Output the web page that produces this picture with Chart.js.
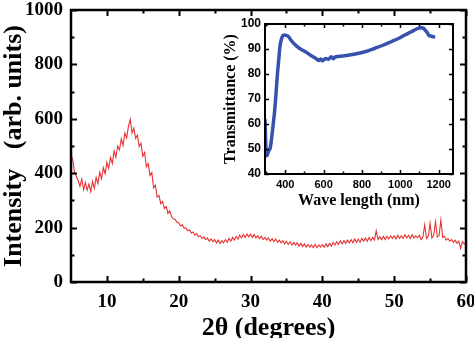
<!DOCTYPE html>
<html>
<head>
<meta charset="utf-8">
<script src="https://cdn.jsdelivr.net/npm/chart.js@4.4.1/dist/chart.umd.min.js"></script>
<style>
  html, body { margin: 0; padding: 0; background: #fff; }
  #wrap { position: relative; width: 474px; height: 338px; }
  #main { position: absolute; left: 0; top: 0; }
  #inset { position: absolute; left: 215px; top: 12px; }
</style>
</head>
<body>
<div id="wrap">
  <canvas id="main" width="474" height="338"></canvas>
  <canvas id="inset" width="245" height="205"></canvas>
</div>
<script>
// XRD scan: intensity sampled every 0.25 deg from 5 to 60
const thetaStart = 5;
const thetaStep = 0.25;
const intensity = [
  470, 448, 402, 388,   // 5
  372, 352, 378, 340,   // 6
  366, 338, 360, 332,   // 7
  370, 344, 384, 362,   // 8
  404, 380, 420, 398,   // 9
  440, 418, 458, 436,   // 10
  482, 458, 500, 486,   // 11
  526, 502, 548, 530,   // 12
  572, 598, 548, 566,   // 13
  528, 540, 498, 510,   // 14
  462, 476, 424, 436,   // 15
  392, 402, 346, 356,   // 16
  312, 318, 288, 296,   // 17
  270, 278, 252, 262,   // 18
  240, 232, 230, 220,   // 19
  218, 206, 210, 198,   // 20
  198, 188, 192, 180,   // 21
  184, 172, 178, 166,   // 22
  170, 160, 166, 156,   // 23
  162, 150, 158, 148,   // 24
  156, 144, 154, 142,   // 25
  152, 144, 156, 146,   // 26
  160, 150, 164, 154,   // 27
  168, 158, 172, 162,   // 28
  174, 164, 176, 166,   // 29
  176, 164, 174, 162,   // 30
  170, 160, 168, 156,   // 31
  164, 154, 162, 150,   // 32
  160, 148, 158, 146,   // 33
  154, 144, 152, 140,   // 34
  150, 138, 148, 136,   // 35
  146, 136, 144, 132,   // 36
  142, 130, 140, 128,   // 37
  138, 128, 136, 126,   // 38
  138, 126, 136, 128,   // 39
  138, 128, 140, 130,   // 40
  142, 132, 146, 136,   // 41
  148, 138, 152, 140,   // 42
  152, 142, 154, 144,   // 43
  156, 144, 158, 146,   // 44
  158, 146, 160, 150,   // 45
  162, 150, 164, 152,   // 46
  164, 154, 188, 156,   // 47
  166, 156, 168, 156,   // 48
  168, 158, 170, 160,   // 49
  170, 158, 172, 160,   // 50
  170, 160, 174, 162,   // 51
  172, 160, 174, 162,   // 52
  170, 162, 172, 156,   // 53
  166, 210, 160, 168,   // 54
  216, 162, 172, 222,   // 55
  166, 170, 228, 164,   // 56
  168, 154, 160, 150,   // 57
  156, 146, 154, 142,   // 58
  150, 124, 148, 140,   // 59
  146                   // 60
];
const xTicks = [10, 20, 30, 40, 50, 60];
const xMinor = [15, 25, 35, 45, 55];
const yTicks = [0, 200, 400, 600, 800, 1000];
const yMinor = [100, 300, 500, 700, 900];

// UV-vis-NIR transmittance for the inset
const wavelength = [
  294, 297, 300, 303, 308, 314, 320, 328, 337, 344,
  350, 356, 360, 366, 372, 380, 388, 395, 405, 416,
  430, 451, 475, 503, 530, 560, 575, 585, 595, 610,
  625, 640, 650, 660, 700, 764, 820, 868, 910, 955,
  990, 1024, 1055, 1085, 1100, 1112, 1122, 1129, 1140, 1150,
  1160, 1167, 1175, 1182
];
const transmittance = [
  62, 55, 49, 47.3, 48, 49.5, 50, 54, 60, 65,
  70.6, 77, 81, 86, 91, 94, 95.5, 95.6, 95.4, 95,
  93.5, 91.7, 90.2, 89, 87.6, 86.2, 85.4, 86.0, 85.3, 86.2,
  85.9, 86.9, 86.1, 86.8, 87.2, 88, 89, 90.3, 91.5, 93,
  94.2, 95.6, 96.8, 98, 98.4, 98.5, 98.2, 97.6, 96.6, 95.4,
  95.2, 95, 94.8, 94.8
];
const wlTicks = [400, 600, 800, 1000, 1200];
const wlMinor = [300, 500, 700, 900, 1100];
const tTicks = [40, 50, 60, 70, 80, 90, 100];
const tMinor = [];

const serif = '"Liberation Serif", "Times New Roman", serif';
const sans = '"Liberation Sans", Arial, sans-serif';

// Box frame with inward ticks on all four sides
const frameTicks = {
  id: 'frameTicks',
  afterDatasetsDraw(chart, args, opts) {
    const { ctx, chartArea: a, scales } = chart;
    const xs = scales.x, ys = scales.y;
    ctx.save();
    ctx.strokeStyle = '#000';
    ctx.lineWidth = opts.tickWidth;
    ctx.beginPath();
    const xMarks = (vals, len) => vals.forEach(v => {
      const px = Math.round(xs.getPixelForValue(v)) + 0.5;
      ctx.moveTo(px, a.bottom); ctx.lineTo(px, a.bottom - len);
      ctx.moveTo(px, a.top); ctx.lineTo(px, a.top + len);
    });
    const yMarks = (vals, len) => vals.forEach(v => {
      const py = Math.round(ys.getPixelForValue(v)) + 0.5;
      ctx.moveTo(a.left, py); ctx.lineTo(a.left + len, py);
      ctx.moveTo(a.right, py); ctx.lineTo(a.right - len, py);
    });
    xMarks(opts.xMajor, opts.major);
    xMarks(opts.xMinor, opts.minor);
    yMarks(opts.yMajor, opts.major);
    yMarks(opts.yMinor, opts.minor);
    ctx.stroke();
    ctx.lineWidth = opts.frameWidth;
    ctx.strokeRect(a.left, a.top, a.width, a.height);
    ctx.restore();
  }
};

const fixTicks = vals => scale => { scale.ticks = vals.map(v => ({ value: v })); };
const noPad = size => s => {
  if (s.isHorizontal()) { s.height = size; s.paddingLeft = 0; s.paddingRight = 0; }
  else { s.width = size; s.paddingTop = 0; s.paddingBottom = 0; }
};
const plain = v => String(v);

new Chart(document.getElementById('main'), {
  type: 'line',
  data: {
    datasets: [{
      data: intensity.map((v, i) => ({ x: thetaStart + i * thetaStep, y: v })),
      borderColor: '#e83232',
      borderWidth: 1.1,
      pointRadius: 0,
      tension: 0
    }]
  },
  options: {
    responsive: false,
    animation: false,
    layout: { padding: { top: 10, right: 8, left: 0, bottom: 0 } },
    plugins: {
      legend: { display: false },
      tooltip: { enabled: false },
      frameTicks: {
        xMajor: xTicks, xMinor: xMinor, yMajor: yTicks, yMinor: yMinor,
        major: 6, minor: 3.5, tickWidth: 2, frameWidth: 2.5
      }
    },
    scales: {
      x: {
        type: 'linear', min: 5, max: 60,
        afterBuildTicks: fixTicks(xTicks),
        afterFit: noPad(56),
        grid: { display: false, drawTicks: false },
        border: { display: false },
        ticks: { padding: 9, color: '#000', maxRotation: 0, callback: plain, font: { family: serif, size: 19, weight: 'bold' } },
        title: {
          display: true, text: '2θ (degrees)', color: '#000',
          padding: 0, font: { family: serif, size: 26, weight: 'bold', lineHeight: 0.78 }
        }
      },
      y: {
        min: 0, max: 1000,
        afterBuildTicks: fixTicks(yTicks),
        afterFit: noPad(71),
        grid: { display: false, drawTicks: false },
        border: { display: false },
        ticks: { padding: 8, color: '#000', callback: plain, font: { family: serif, size: 19, weight: 'bold' } },
        title: {
          display: true, text: 'Intensity   (arb. units)', color: '#000',
          padding: 0, font: { family: serif, size: 26, weight: 'bold', lineHeight: 1.08 }
        }
      }
    }
  },
  plugins: [frameTicks]
});

new Chart(document.getElementById('inset'), {
  type: 'line',
  data: {
    datasets: [{
      data: wavelength.map((w, i) => ({ x: w, y: transmittance[i] })),
      borderColor: '#3553ad',
      borderWidth: 3.5,
      pointRadius: 0,
      cubicInterpolationMode: 'monotone'
    }]
  },
  options: {
    responsive: false,
    animation: false,
    layout: { padding: { top: 12, right: 7, left: 0, bottom: 0 } },
    plugins: {
      legend: { display: false },
      tooltip: { enabled: false },
      frameTicks: {
        xMajor: wlTicks, xMinor: wlMinor, yMajor: tTicks, yMinor: tMinor,
        major: 4, minor: 2.5, tickWidth: 1.5, frameWidth: 2
      }
    },
    scales: {
      x: {
        type: 'linear', min: 294, max: 1275,
        afterBuildTicks: fixTicks(wlTicks),
        afterFit: noPad(43),
        grid: { display: false, drawTicks: false },
        border: { display: false },
        ticks: { padding: 4, color: '#000', maxRotation: 0, callback: plain, font: { family: sans, size: 11, weight: 'bold' } },
        title: {
          display: true, text: 'Wave length (nm)', color: '#000',
          padding: 0, font: { family: serif, size: 16, weight: 'bold', lineHeight: 2.0 }
        }
      },
      y: {
        min: 40, max: 100,
        afterBuildTicks: fixTicks(tTicks),
        afterFit: noPad(50),
        grid: { display: false, drawTicks: false },
        border: { display: false },
        ticks: { padding: 4, color: '#000', callback: plain, font: { family: sans, size: 12, weight: 'bold' } },
        title: {
          display: true, text: 'Transmittance (%)', color: '#000',
          padding: 0, font: { family: serif, size: 16, weight: 'bold', lineHeight: 2.0 }
        }
      }
    }
  },
  plugins: [frameTicks]
});
</script>
</body>
</html>
